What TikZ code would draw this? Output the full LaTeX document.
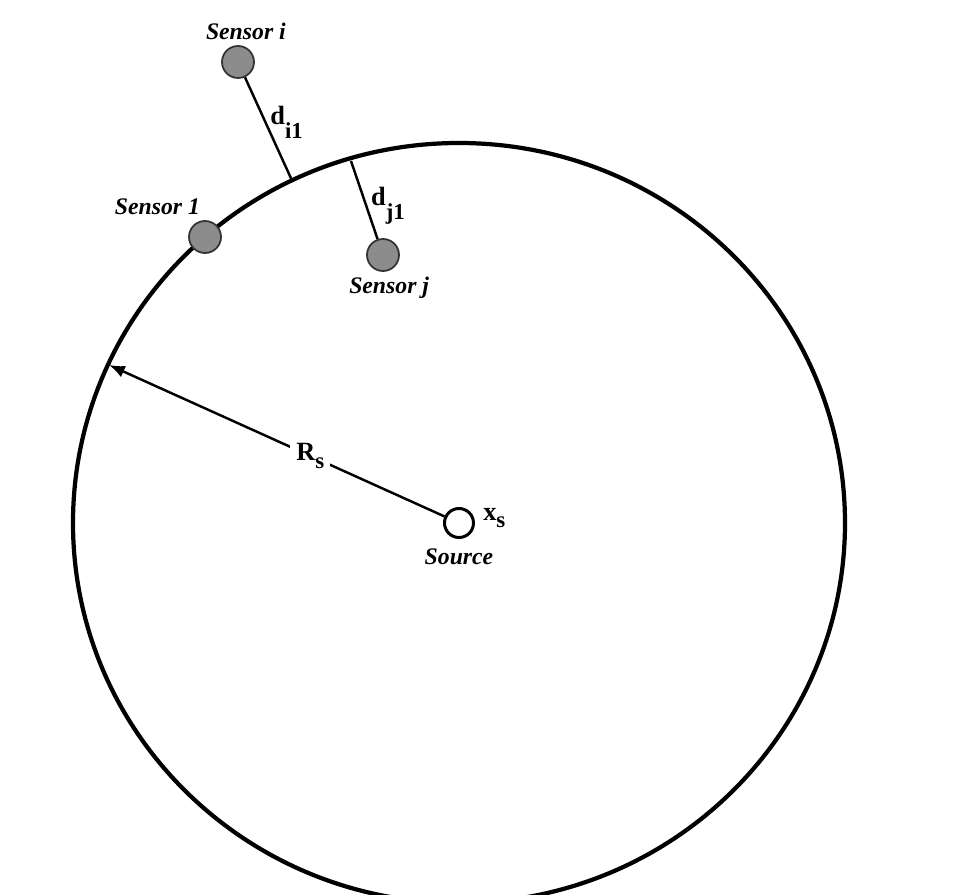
\documentclass[tikz,border=0pt]{standalone}
\usepackage{fontspec}
\setmainfont{Liberation Serif}
\usetikzlibrary{arrows.meta,positioning}

\tikzset{
	sensor/.style={circle, fill=black!45, draw=black!80, line width=1pt, minimum size=0.64cm, inner sep=0pt},
	sensorname/.style={font=\fontsize{13.5}{16}\selectfont\bfseries\itshape, inner sep=1pt},
	distname/.style={font=\fontsize{15}{17}\selectfont\bfseries, inner sep=1pt},
}
\newcommand{\lowidx}[2]{\raisebox{-#1}{\fontsize{13}{15}\selectfont #2}}

\begin{document}
\begin{tikzpicture}[>={Latex[length=9pt,width=7pt]}, line width=1.4pt]

\useasboundingbox (-9.18,-7.44) rectangle (10.16,10.46);
\clip (-9.18,-7.44) rectangle (10.16,10.46);

\draw[line width=2.4pt] (0,0) ellipse[x radius=7.72, y radius=7.6];

\node[circle, draw, fill=white, line width=1.7pt, minimum size=0.58cm, inner sep=0pt] (src) at (0,0) {};
\node[sensorname, below=4pt of src] (srcname) {Source};
\node[distname, anchor=base west, inner sep=0pt] (xs) at ([xshift=4pt, yshift=1.7pt]src.east) {x\lowidx{4pt}{s}};

\node[sensor] (Si) at (-4.42,9.22) {};
\node[sensor] (S1) at (-5.08,5.72) {};
\node[sensor] (Sj) at (-1.52,5.36) {};

\node[sensorname, above=1.5pt of Si, xshift=4.5pt] (Siname) {Sensor i};
\node[sensorname, anchor=south east] (S1name) at ([xshift=-0.04cm, yshift=0.04cm]S1.north) {Sensor 1};
\node[sensorname, below=1.5pt of Sj, xshift=3.5pt] (Sjname) {Sensor j};

\coordinate (Ci) at (-3.34,6.85);
\coordinate (Cj) at (-2.16,7.24);
\coordinate (tip) at (-7.0,3.16);

\draw (Si) -- node[distname, pos=0.44, right=1pt] (di) {d\lowidx{8pt}{i1}} (Ci);
\draw (Sj) -- node[distname, pos=0.42, right=1pt] (dj) {d\lowidx{8pt}{j1}} (Cj);

\draw[->] (src) -- node[distname, fill=white, inner sep=3.5pt, pos=0.4] (Rs) {R\lowidx{4.5pt}{s}} (tip);

\end{tikzpicture}
\end{document}
